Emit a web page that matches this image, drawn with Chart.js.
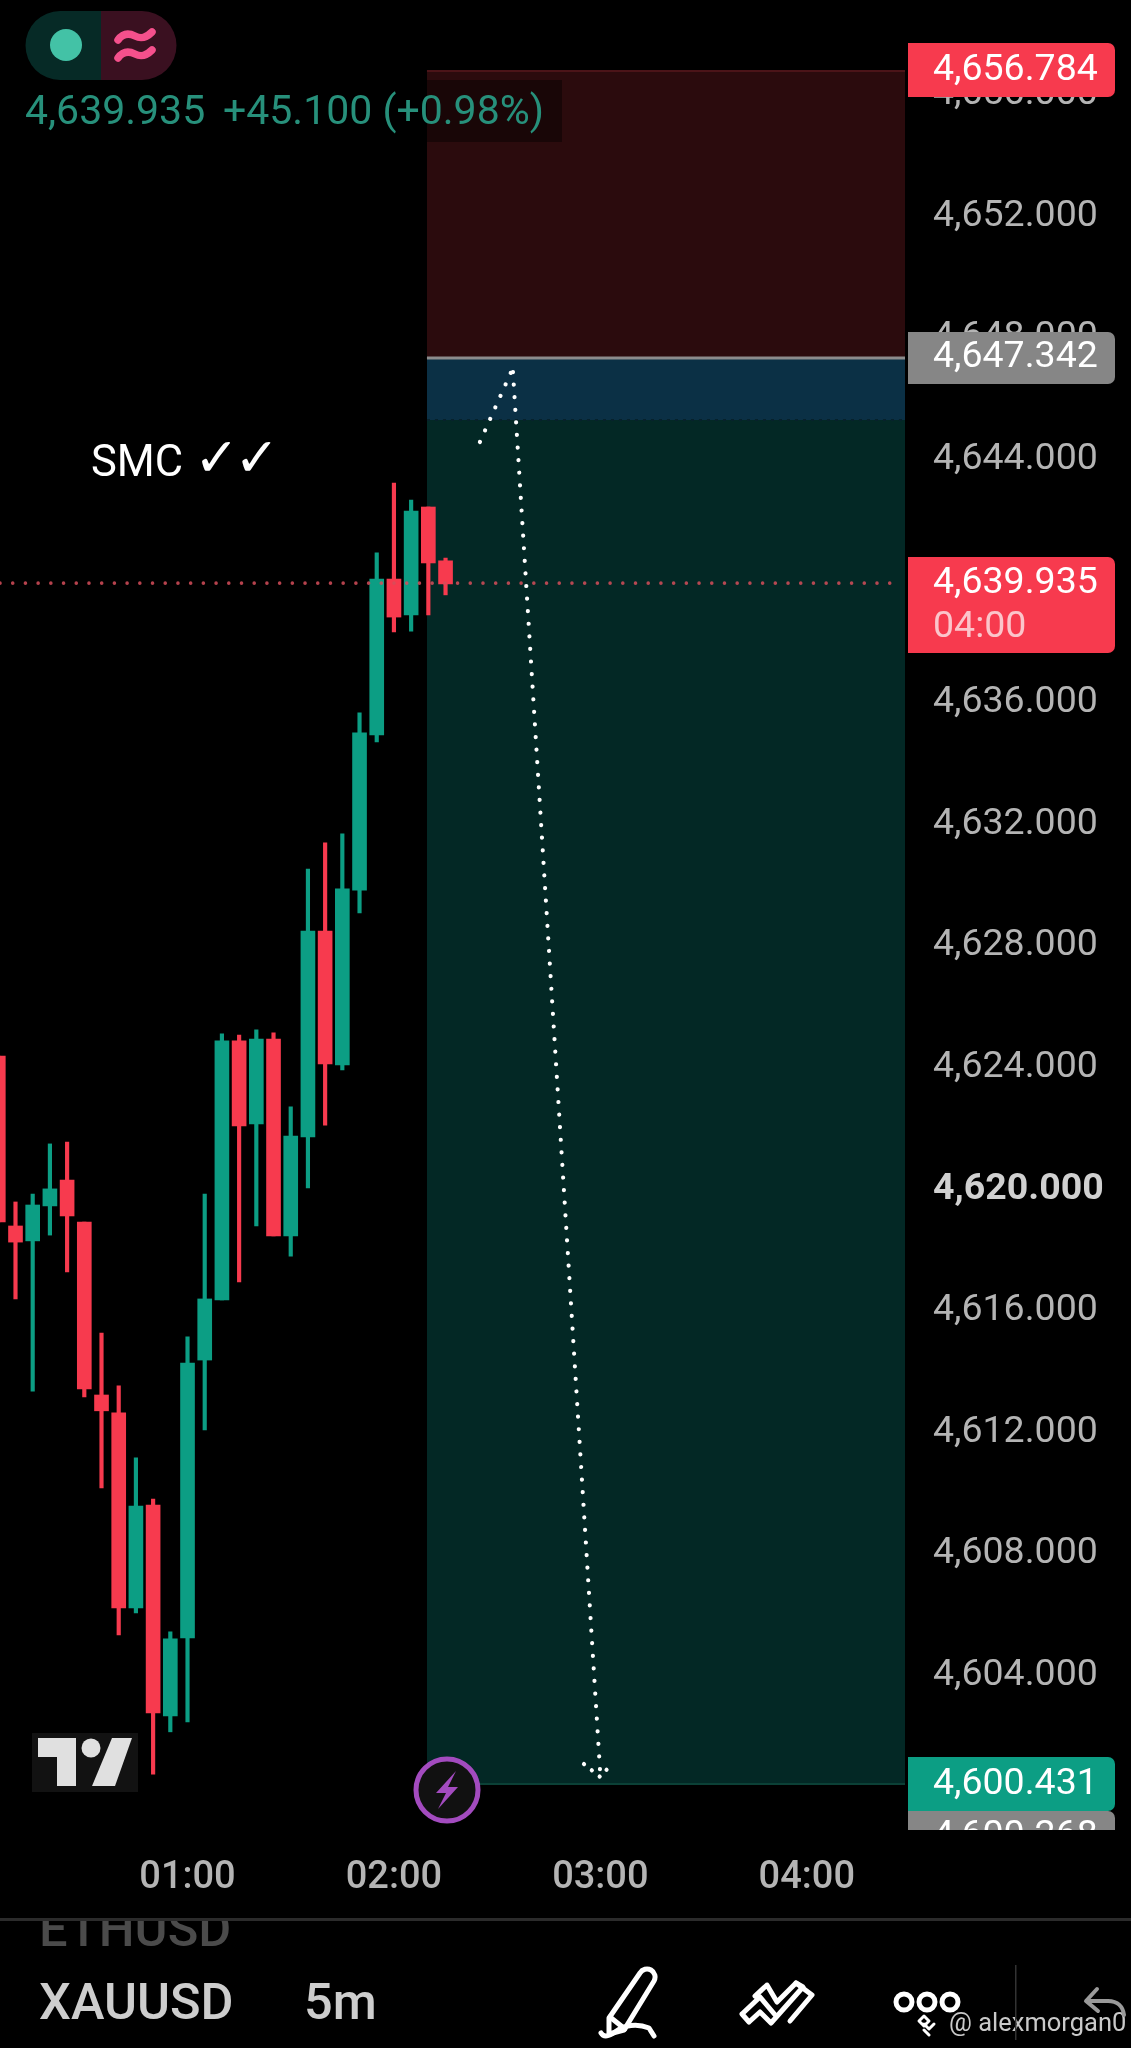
<!DOCTYPE html>
<html>
<head>
<meta charset="utf-8">
<script src="https://cdn.jsdelivr.net/npm/chart.js@4"></script>
<style>
html,body{margin:0;padding:0;background:#000;width:1131px;height:2048px;overflow:hidden;font-family:Roboto,sans-serif}
canvas#c{position:absolute;left:0;top:0}
.t{position:absolute;white-space:nowrap;line-height:1}
.tag{position:absolute;left:908px;width:207px;border-radius:0 7px 7px 0;overflow:hidden}
.tag span{position:absolute;left:25px;font-size:37.5px;line-height:1;color:#fff;white-space:nowrap}
svg{position:absolute;left:0;top:0}
</style>
</head>
<body>
<canvas id="c" width="1131" height="2048"></canvas>

<div class="t" style="left:20px;top:80px;width:542px;height:62px;background:rgba(0,0,0,.42)"></div>
<div class="t" style="left:25px;top:90px;font-size:41px;color:#27907b">4,639.935</div>
<div class="t" style="left:223px;top:90px;font-size:41px;color:#27907b">+45.100 (+0.98%)</div>
<div class="t" style="left:91px;top:431px;font-size:43.5px;color:#fff;font-family:Roboto,'DejaVu Sans',sans-serif">SMC <span style="font-family:'DejaVu Sans';font-size:54px;font-weight:700;letter-spacing:-5px">✓✓</span></div>

<div class="tag" style="top:43px;height:54px;background:#f73a4e"><span style="top:6px">4,656.784</span></div>
<div class="tag" style="top:332px;height:52px;background:#868686"><span style="top:4px">4,647.342</span></div>
<div class="tag" style="top:557px;height:96px;background:#f73a4e"><span style="top:5px">4,639.935</span><span style="top:49px;color:#fbc5cb">04:00</span></div>
<div class="tag" style="top:1811px;height:19px;background:#868686;border-radius:7px 7px 0 0;border-top-left-radius:0"><span style="top:4px">4,600.268</span></div>
<div class="tag" style="top:1757px;height:54px;background:#0c9e84"><span style="top:6px">4,600.431</span></div>

<div style="position:absolute;left:0;top:1918px;width:1131px;height:3px;background:#2b2b2b"></div>
<div style="position:absolute;left:0;top:1921px;width:400px;height:30px;overflow:hidden">
  <div class="t" style="left:39px;top:-17px;font-size:50.5px;font-weight:500;color:#4b4b4b">ETHUSD</div>
</div>
<div class="t" style="left:39px;top:1977px;font-size:50.5px;font-weight:500;color:#cdcdcd">XAUUSD</div>
<div class="t" style="left:304px;top:1977px;font-size:50.5px;font-weight:500;color:#cdcdcd">5m</div>
<div class="t" style="left:949px;top:2010px;font-size:25.5px;color:#c9c9c9;background:rgba(0,0,0,.35)">@ alexmorgan0</div>

<svg width="1131" height="2048" viewBox="0 0 1131 2048">
  <!-- status pill -->
  <path d="M101 11H60a34.500 34.500 0 0 0 0 69H101Z" fill="#062a26"/>
  <path d="M101 11H142a34.500 34.500 0 0 1 0 69H101Z" fill="#3a1020"/>
  <ellipse cx="66" cy="45" rx="16" ry="16" fill="#43c2a6"/>
  <path d="M118 40c5-7 11-7 17-4s11 2 17-4M118 58c5-7 11-7 17-4s11 2 17-4" fill="none" stroke="#f5508c" stroke-width="7.500" stroke-linecap="round"/>
  <!-- logo -->
  <rect x="32" y="1733" width="106" height="59" fill="#121212"/>
  <path d="M38 1738H76V1786H57V1757H38Z" fill="#e0e0e0"/>
  <circle cx="91" cy="1748" r="9.500" fill="#e0e0e0"/>
  <path d="M112 1738H132L115 1786H92Z" fill="#e0e0e0"/>
  <!-- bolt -->
  <circle cx="447" cy="1790" r="31" fill="#111" stroke="#a34bbf" stroke-width="5"/>
  <path d="M456 1771L436 1793H446L438 1809L458 1787H448Z" fill="#a34bbf"/>
  <!-- pencil -->
  <g fill="none" stroke="#fff" stroke-width="5" stroke-linejoin="round" stroke-linecap="round">
    <path d="M640 1973a8 8 0 0 1 14 8L624 2030L609 2034V2018Z"/>
    <path d="M610 2017L625 2029"/>
    <path d="M601 2033c3 5 8 3 14-1c9-7 22-9 34-4l5 8"/>
    <!-- drawing tools -->
    <path d="M742 2014L760 1997L776 2016 M742 2014L749 2022L760 2012L771 2023L803 1987L796 1983L777 2002L767 1985L755 1996" />
    <path d="M796 1983L812 1995L790 2021"/>
    <!-- indicators -->
    <circle cx="904" cy="2002" r="8"/><circle cx="927" cy="2002" r="8"/><circle cx="950" cy="2002" r="8"/>
    <path d="M924 2016l5 5l-5 5l-5-5Z" stroke-width="3"/><path d="M934 2024l-5 5l-5-5" stroke-width="3"/><path d="M924 2030l5 5" stroke-width="3"/>
    <!-- undo -->
    <path d="M1097 1989L1086 2001L1098 2011M1087 2001H1108c10 0 15 6 16 14" stroke="#9a9a9a" stroke-width="4"/>
  </g>
  <rect x="1015" y="1965" width="1.500" height="75" fill="#333"/>
</svg>

<script>
// Candle times (5-minute bars)
const times = ["00:05","00:10","00:15","00:20","00:25","00:30","00:35","00:40","00:45","00:50","00:55","01:00","01:05","01:10","01:15","01:20","01:25","01:30","01:35","01:40","01:45","01:50","01:55","02:00","02:05","02:10","02:15"];
const opens  = [4624.38,4618.79,4618.30,4619.45,4620.30,4618.92,4613.23,4612.64,4606.23,4609.61,4602.67,4605.24,4614.38,4616.36,4624.88,4622.15,4624.94,4618.46,4621.72,4628.49,4624.09,4629.84,4634.94,4640.07,4638.89,4642.44,4640.67];
const highs  = [4624.38,4619.58,4619.84,4621.49,4621.55,4618.92,4615.27,4613.53,4611.16,4609.81,4605.44,4615.14,4619.84,4625.11,4625.07,4625.24,4625.14,4622.71,4630.53,4631.39,4631.69,4635.67,4640.93,4643.23,4642.67,4642.44,4640.76];
const lows   = [4618.92,4616.39,4613.36,4618.49,4617.28,4613.17,4610.17,4605.34,4606.06,4600.76,4602.15,4602.48,4612.08,4616.36,4616.95,4618.79,4618.46,4617.80,4620.04,4622.11,4623.92,4629.09,4634.71,4638.33,4638.36,4638.89,4639.55];
const closes = [4618.92,4618.26,4619.48,4620.01,4619.12,4613.43,4612.71,4606.23,4609.58,4602.77,4605.21,4614.28,4616.39,4624.88,4622.08,4624.94,4618.46,4621.75,4628.49,4624.12,4629.88,4635.01,4640.07,4638.82,4642.31,4640.60,4639.91];

// Time axis: tick positions are candle indexes
const xTickValues = [11,23,35,47];
const xTickLabels = ["01:00","02:00","03:00","04:00"];
// Price axis
const yTickValues = [4604,4608,4612,4616,4620,4624,4628,4632,4636,4640,4644,4648,4652,4656];
const yBoldTick = 4620;

// Position tool price levels
const stopPrice = 4656.784, entryPrice = 4647.342, entryLow = 4645.30, targetPrice = 4600.431, lastPrice = 4639.935;
const toolStartBar = 24.92;

// Dotted hand-drawn arrows: [bar index, price]
const arrowUp   = [[28.00,4644.58],[29.81,4646.88]];
const arrowMain = [[29.92,4646.88],[34.98,4600.90]];
const arrowHead = [[34.05,4601.09],[34.98,4600.67],[35.62,4601.06]];

const xMin = 0.099, xMax = 52.71, yMin = 4598.921, yMax = 4659.118;
const UP = '#0c9e84', DOWN = '#f73a4e';

const colors = opens.map((o,i)=> closes[i] >= o ? UP : DOWN);
const pts = a => a.map(p=>({x:p[0],y:p[1]}));
const level = (v,from,to)=>[{x:from,y:v},{x:to,y:v}];
const noPad = s => { s.paddingLeft = s.paddingRight = s.paddingTop = s.paddingBottom = 0; };

function zone(top,bottom,fillCol,edge,dash,order){
  return {type:'line',data:level(top,toolStartBar,xMax),fill:{value:bottom},backgroundColor:fillCol,
          borderColor:edge,borderWidth:2,borderDash:dash||[],pointRadius:0,order:order};
}
function dotted(points,order,color,w,gap){
  return {type:'line',data:points,fill:false,borderColor:color,borderWidth:w,borderDash:[0.01,gap],
          borderCapStyle:'round',pointRadius:0,tension:0,order:order};
}

new Chart(document.getElementById('c'),{
  data:{datasets:[
    zone(stopPrice,entryPrice,'#2b0b0d','#4b1418',null,20),
    zone(entryLow,targetPrice,'#032825','#07222c',[3,5],18),
    zone(entryPrice,entryLow,'#0b3045','#0b3045',null,19),
    {type:'line',data:level(targetPrice,toolStartBar,xMax),borderColor:'#0b4036',borderWidth:2,pointRadius:0,fill:false,order:17},
    {type:'line',data:level(entryPrice,toolStartBar,xMax),borderColor:'#8c8c8c',borderWidth:3,pointRadius:0,fill:false,order:16},
    {type:'bar',data:times.map((t,i)=>({x:i,y:[lows[i],highs[i]]})),backgroundColor:colors,barThickness:3.5,grouped:false,order:6},
    {type:'bar',data:times.map((t,i)=>({x:i,y:[Math.min(opens[i],closes[i]),Math.max(opens[i],closes[i])]})),backgroundColor:colors,barThickness:14,grouped:false,order:5},
    dotted(level(lastPrice,xMin,52.5),4,'rgba(214,78,90,.85)',3.6,12.7),
    dotted(pts(arrowUp),2,'#fff',4.2,12.6),
    dotted(pts(arrowMain),2,'#fff',4.2,12.6),
    dotted(pts(arrowHead),2,'#fff',4.2,10)
  ]},
  options:{
    responsive:false,animation:false,
    layout:{padding:0},
    plugins:{legend:{display:false},tooltip:{enabled:false},title:{display:false}},
    scales:{
      x:{type:'linear',offset:false,min:xMin,max:xMax,
        grid:{display:false,drawTicks:false,offset:false},border:{display:false},
        afterFit(s){s.height=218;noPad(s);},
        afterBuildTicks(s){s.ticks=xTickValues.map(v=>({value:v}));},
        ticks:{autoSkip:false,maxRotation:0,padding:26,color:'#b4b4b4',
          font:{family:'Roboto',size:38,weight:'500'},
          callback:v=>xTickLabels[xTickValues.indexOf(v)]}
      },
      y:{type:'linear',position:'right',min:yMin,max:yMax,
        grid:{display:false,drawTicks:false},border:{display:false},
        afterFit(s){s.width=226;noPad(s);},
        afterBuildTicks(s){s.ticks=yTickValues.map(v=>({value:v}));},
        ticks:{autoSkip:false,padding:28,labelOffset:0,align:'center',crossAlign:'near',
          color:c=>c.tick.value===yBoldTick?'#d0d0d0':'#b4b4b4',
          font:c=>({family:'Roboto',size:37.5,weight:c.tick&&c.tick.value===yBoldTick?'700':'400'}),
          callback:v=>v.toLocaleString('en-US',{minimumFractionDigits:3,maximumFractionDigits:3})}
      }
    }
  }
});
</script>
</body>
</html>
